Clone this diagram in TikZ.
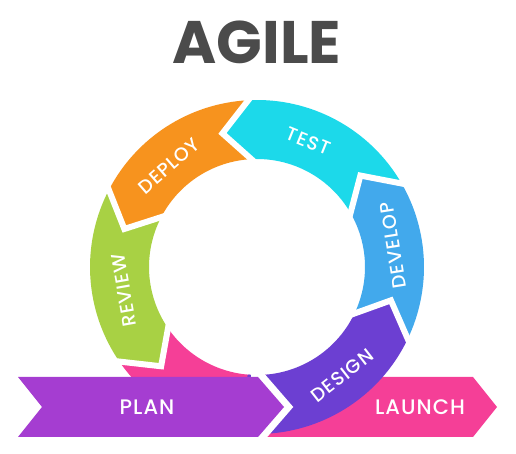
\documentclass[tikz,border=0pt]{standalone}
\usepackage{fontspec}
\setmainfont{Poppins}
\newfontfamily\lblfont[LetterSpace=5]{Poppins Medium}
\definecolor{cgray}{HTML}{4B4B4B}
\definecolor{corange}{HTML}{F7931E}
\definecolor{ccyan}{HTML}{1CD9EA}
\definecolor{cblue}{HTML}{42A9EC}
\definecolor{cdesign}{HTML}{6C3FD2}
\definecolor{cplan}{HTML}{A53DD1}
\definecolor{cpink}{HTML}{F53F97}
\definecolor{cgreen}{HTML}{A8D144}
\tikzset{
  gapline/.style={draw=white, line width=6pt, line join=miter, shorten <=-8pt, shorten >=-8pt},
  ringlabel/.style={text=white, font=\lblfont\fontsize{19}{21}\selectfont, inner sep=0pt},
  bannerlabel/.style={text=white, font=\lblfont\fontsize{21}{23}\selectfont, inner sep=0pt},
}
\newcommand\ringseg[3]{%
  \fill[#1] (#2:108) -- ({#2+11.5}:138) -- (#2:167)
    arc[start angle=#2, end angle=#3, radius=167]
    -- ({#3+11.5}:138) -- (#3:108)
    arc[start angle=#3, end angle=#2, radius=108] -- cycle;}
\newcommand\gapat[1]{\draw[gapline] (#1:108) -- ({#1+11.5}:138) -- (#1:167);}
\begin{document}
\begin{tikzpicture}[x=1pt,y=1pt]
\useasboundingbox (0,0) rectangle (516,454);
\node[text=cgray, font=\bfseries\fontsize{60}{62}\selectfont, inner sep=0pt] (title) at (257,411.5) {AGILE};
% launch banner
\fill[cpink] (250,17) -- (473,17) -- (497,47) -- (473,77) -- (250,77) -- cycle;
\begin{scope}[shift={(257,187)}]
  % pink arc (end of review, leading into launch)
  \fill[cpink] (214.5:108) -- (226:138) -- (214.5:167)
    arc[start angle=214.5, end angle=275, radius=167]
    -- (275:108) arc[start angle=275, end angle=214.5, radius=108] -- cycle;
  % design
  \fill[cdesign] (265:108) -- (265:167)
    arc[start angle=265, end angle=334.5, radius=167]
    -- (346:138) -- (334.5:108)
    arc[start angle=334.5, end angle=265, radius=108] -- cycle;
  \ringseg{cblue}{-25.5}{30}
  \ringseg{ccyan}{30}{93}
  \ringseg{corange}{93}{152.5}
  \ringseg{cgreen}{152.5}{214.5}
  \gapat{-25.5}
  \gapat{30}
  \gapat{93}
  \gapat{152.5}
  \gapat{214.5}
  \node[ringlabel, rotate=-22] (test) at (67.8:136) {TEST};
  \node[ringlabel, rotate=41] (deploy) at (131:134) {DEPLOY};
  \node[ringlabel, rotate=100] (review) at (190:135) {REVIEW};
  \node[ringlabel, rotate=99] (develop) at (9:138) {DEVELOP};
  \node[ringlabel, rotate=38] (design) at (-52:138) {DESIGN};
\end{scope}
% plan banner with white gap at its tip
\draw[white, line width=14pt, line join=miter] (258,80) -- (258,77) -- (284,47) -- (258,17) -- (258,14);
\fill[cplan] (18,77) -- (258,77) -- (284,47) -- (258,17) -- (18,17) -- (42,47) -- cycle;
\node[bannerlabel] (plan) at (147,47) {PLAN};
\node[bannerlabel] (launch) at (420,47) {LAUNCH};
\end{tikzpicture}
\end{document}
